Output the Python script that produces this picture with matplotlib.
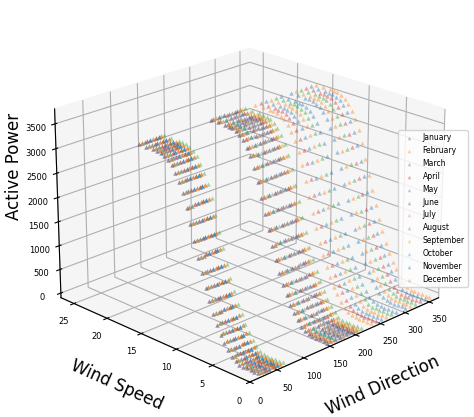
import matplotlib
matplotlib.use("Agg")
import matplotlib.pyplot as plt
import numpy as np

months = ["January","February","March","April","May","June","July","August",
          "September","October","November","December"]
colors = ["#1f77b4","#ff7f0e","#2ca02c","#d62728","#9467bd","#8c564b",
          "#e377c2","#7f7f7f","#bcbd22","#17becf","#1f77b4","#ff7f0e"]
# power curve (speed m/s -> kW)
speeds = [0,0.5,1,1.5,2,2.5,3,3.5,4,4.5,5,5.5,6,6.5,7,7.5,8,8.5,9,9.5,10,10.5,
          11,11.5,12,12.5,13,13.5,14,15,16]
power = [0,0,0,0,0,10,40,100,200,320,450,620,800,1020,1250,1520,1800,2100,
         2400,2700,2950,3150,3300,3420,3500,3550,3580,3590,3600,3600,3600]
# dominant wind directions per month (deg)
month_dirs = [
    [20,35,50,150,175,200,250,300], [25,40,55,155,180,205,260,310],
    [30,45,60,160,185,210,270,320], [15,30,45,145,170,195,240,330],
    [20,40,150,180], [25,45,160,190], [30,50,155,185], [35,55,165,195],
    [20,45,150,200], [25,50,160,180], [15,35,50,145,170,190,280,340],
    [20,40,55,150,175,200,230,350]]

fig = plt.figure(figsize=(4.74,4.17), dpi=100)
ax = fig.add_axes([0.07,-0.02,0.89,1.03], projection="3d")
ax.view_init(elev=22, azim=-135)
sp = np.array(speeds, float); pw = np.array(power, float)
for m, (name, c, dirs) in enumerate(zip(months, colors, month_dirs)):
    xs, ys, zs = [], [], []
    for d in dirs:
        for s, p in zip(sp, pw):
            xs.append(d); ys.append(s); zs.append(p)
    ax.scatter(xs, ys, zs, c=c, marker="^", s=10, alpha=0.4, label=name,
               depthshade=False, linewidths=0)
ax.set_xlim(0,370); ax.set_ylim(0,27); ax.set_zlim(-100,3800)
ax.set_xticks([0,50,100,150,200,250,300,350])
ax.set_yticks([0,5,10,15,20,25])
ax.set_zticks([0,500,1000,1500,2000,2500,3000,3500])
ax.tick_params(labelsize=6, pad=0)
ax.set_xlabel("Wind Direction", fontsize=12, labelpad=6)
ax.set_ylabel("Wind Speed", fontsize=12, labelpad=6)
ax.set_zlabel("")
fig.text(0.03, 0.6, "Active Power", rotation=90, fontsize=12,
         ha="center", va="center")
for a in (ax.xaxis, ax.yaxis, ax.zaxis):
    a.set_pane_color((0.96,0.96,0.96,1))
leg = fig.legend(loc="center right", bbox_to_anchor=(0.995,0.5), fontsize=5.5,
                 markerscale=0.8, framealpha=0.8)
fig.savefig("out.png", dpi=100)
